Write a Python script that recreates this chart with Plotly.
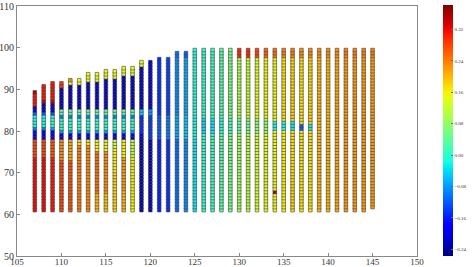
import numpy as np
import plotly.graph_objects as go

# ---- data ----
col_x = list(range(107, 146))
col_bottom = [61.0] * 38 + [61.7]
col_top = [89.28, 90.73, 91.45, 91.45, 92.18, 92.18, 93.63, 93.63, 94.35, 94.35,
           95.08, 95.08, 96.53, 96.53, 97.25, 97.25, 98.70, 98.70] + [99.43] * 21
y_levels = [61.00, 61.73, 62.45, 63.18, 63.90, 64.63, 65.35, 66.08, 66.80, 67.53,
            68.25, 68.98, 69.70, 70.43, 71.15, 71.88, 72.60, 73.33, 74.05, 74.78,
            75.50, 76.23, 76.95, 77.68, 78.40, 79.13, 79.85, 80.58, 81.30, 82.03,
            82.75, 83.48, 84.20, 84.93, 85.65, 86.38, 87.10, 87.83, 88.55, 89.28,
            90.00, 90.73, 91.45, 92.18, 92.90, 93.63, 94.35, 95.08, 95.80, 96.53,
            97.25, 97.98, 98.70, 99.43]

mid_band = [[79.2, -0.20], [80.5, -0.08], [82.8, 0.0], [83.6, -0.10], [84.3, 0.02], [85.3, 0.06]]

# per column: [upper y bound, value] segments from the bottom up
col_segments = [
    [[74, 0.32], [78, 0.28], [80, -0.20], [81, -0.10], [83.6, -0.02], [84.5, -0.12], [86.0, -0.22], [89.0, 0.31], [99.9, 0.35]],
    [[74, 0.32], [78, 0.28], [80, -0.20], [81, -0.10], [83.6, -0.02], [84.5, -0.12], [86.5, -0.22], [87.5, 0.35], [99.9, 0.31]],
    [[74, 0.31], [78, 0.27], [80, -0.20], [81, -0.08], [83.6, 0.0], [84.5, -0.12], [86.8, -0.22], [87.5, 0.35], [99.9, 0.31]],
    [[73, 0.28], [78, 0.23]] + mid_band + [[90.3, -0.22], [99.9, 0.29]],
    [[73, 0.27], [78, 0.21]] + mid_band + [[91.0, -0.22], [91.8, 0.13], [99.9, 0.23]],
    [[76.5, 0.24], [78, 0.18]] + mid_band + [[91.0, -0.22], [99.9, 0.15]],
    [[76.5, 0.23], [78, 0.17]] + mid_band + [[91.8, -0.22], [99.9, 0.15]],
    [[65, 0.20], [75, 0.25], [78, 0.16]] + mid_band + [[91.8, -0.22], [99.9, 0.15]],
    [[65, 0.19], [75, 0.23], [78, 0.15]] + mid_band + [[92.5, -0.22], [99.9, 0.15]],
    [[70, 0.18], [76, 0.16], [78, 0.12]] + mid_band + [[92.5, -0.22], [99.9, 0.15]],
    [[66, 0.20], [74, 0.22], [78, 0.15]] + mid_band + [[93.2, -0.22], [99.9, 0.15]],
    [[74, 0.16], [78, 0.11]] + mid_band + [[93.2, -0.22], [99.9, 0.14]],
    [[78.2, -0.23], [79.2, -0.20], [84.2, -0.15], [85.3, -0.05], [95.4, -0.22], [99.9, 0.14]],
    [[78.2, -0.22], [84.2, -0.14], [85.3, -0.08], [99.9, -0.21]],
    [[78.2, -0.16], [84.2, -0.12], [99.9, -0.15]],
    [[78.2, -0.15], [84.2, -0.10], [99.9, -0.14]],
    [[78.2, -0.11], [84.2, -0.07], [97.5, -0.09], [99.9, -0.11]],
    [[78.2, -0.09], [84.2, -0.05], [97.8, -0.07], [99.9, -0.12]],
    [[78, -0.03], [84, -0.02], [99.9, -0.01]],
    [[79.5, 0.0], [83, -0.04], [99.9, 0.0]],
    [[79.5, 0.01], [83, -0.03], [99.9, 0.01]],
    [[79.5, 0.03], [83, -0.01], [99.9, 0.03]],
    [[79.5, 0.06], [83, 0.02], [99.9, 0.06]],
    [[79.5, 0.09], [83, 0.04], [97.5, 0.10], [99.9, 0.30]],
    [[79.5, 0.11], [83, 0.06], [97.5, 0.12], [99.9, 0.30]],
    [[79.5, 0.13], [83, 0.08], [97.5, 0.14], [99.9, 0.28]],
    [[79.5, 0.14], [83, 0.08], [97.5, 0.15], [99.9, 0.26]],
    [[65.0, 0.15], [65.7, 0.37], [80.5, 0.15], [82.5, -0.02], [97.5, 0.15], [99.9, 0.25]],
    [[80.5, 0.16], [82.5, -0.02], [97.5, 0.17], [99.9, 0.24]],
    [[70, 0.18], [80.5, 0.17], [82.5, -0.03], [97.5, 0.18], [99.9, 0.24]],
    [[80, 0.17], [81.6, -0.12], [97.5, 0.17], [99.9, 0.23]],
    [[80, 0.17], [81.6, -0.03], [97.5, 0.18], [99.9, 0.23]],
    [[97.5, 0.20], [99.9, 0.23]],
    [[97.5, 0.20], [99.9, 0.23]],
    [[97.5, 0.21], [99.9, 0.23]],
    [[97.5, 0.22], [99.9, 0.24]],
    [[97.5, 0.22], [99.9, 0.24]],
    [[97.5, 0.22], [99.9, 0.24]],
    [[97.5, 0.22], [99.9, 0.24]],
]

cb_ticks = [-0.24, -0.16, -0.08, 0.0, 0.08, 0.16, 0.24, 0.32]
cb_text = ["\u22120.24", "\u22120.16", "\u22120.08", "0.00", "0.08", "0.16", "0.24", "0.32"]
x_ticks = [105, 110, 115, 120, 125, 130, 135, 140, 145, 150]
y_ticks = [50, 60, 70, 80, 90, 100, 110]
cmin, cmax = -0.257, 0.382

# ---- build points ----
xs, ys, vs = [], [], []
for cx, bot, top, segs in zip(col_x, col_bottom, col_top, col_segments):
    for y in y_levels:
        if y < bot - 0.1 or y > top + 0.1:
            continue
        val = segs[-1][1]
        for ub, v in segs:
            if y < ub:
                val = v
                break
        xs.append(cx)
        ys.append(y)
        vs.append(val)

# matplotlib-style jet colorscale
red = [(0, 0), (0.35, 0), (0.66, 1), (0.89, 1), (1, 0.5)]
green = [(0, 0), (0.125, 0), (0.375, 1), (0.64, 1), (0.91, 0), (1, 0)]
blue = [(0, 0.5), (0.11, 1), (0.34, 1), (0.65, 0), (1, 0)]
def chan(t, pts):
    return np.interp(t, [p[0] for p in pts], [p[1] for p in pts])
jet = []
for t in np.linspace(0, 1, 41):
    r, g, b = chan(t, red), chan(t, green), chan(t, blue)
    jet.append([float(t), f"rgb({int(r*255)},{int(g*255)},{int(b*255)})"])

fig = go.Figure(go.Scatter(
    x=xs, y=ys, mode="markers",
    marker=dict(symbol="square", size=3.6, color=vs, colorscale=jet, cmin=cmin, cmax=cmax,
                line=dict(color="#444444", width=0.6),
                colorbar=dict(x=1.065, xanchor="left", xpad=0, y=0.502, yanchor="middle", ypad=0,
                              lenmode="pixels", len=251, thickness=10, outlinewidth=0,
                              tickvals=cb_ticks, ticktext=cb_text, ticks="inside", ticklen=2,
                              tickcolor="#666666",
                              tickfont=dict(family="Liberation Serif", size=5, color="#333333"))),
    showlegend=False, hoverinfo="skip"))

axis_common = dict(showgrid=False, zeroline=False, showline=True, mirror=True, linecolor="#888888",
                   linewidth=1, ticks="inside", ticklen=3, tickcolor="#888888", automargin=False)
fig.update_xaxes(range=[105, 150], tickvals=x_ticks, ticklabelstandoff=-3,
                 tickfont=dict(family="Liberation Serif", size=9, color="#333333"), **axis_common)
fig.update_yaxes(range=[50, 110], tickvals=y_ticks,
                 tickfont=dict(family="Liberation Serif", size=10, color="#333333"), **axis_common)
fig.update_layout(width=474, height=267, margin=dict(l=17, r=57, t=6, b=11, autoexpand=False),
                  plot_bgcolor="white", paper_bgcolor="white")
fig.write_html("out.html")
